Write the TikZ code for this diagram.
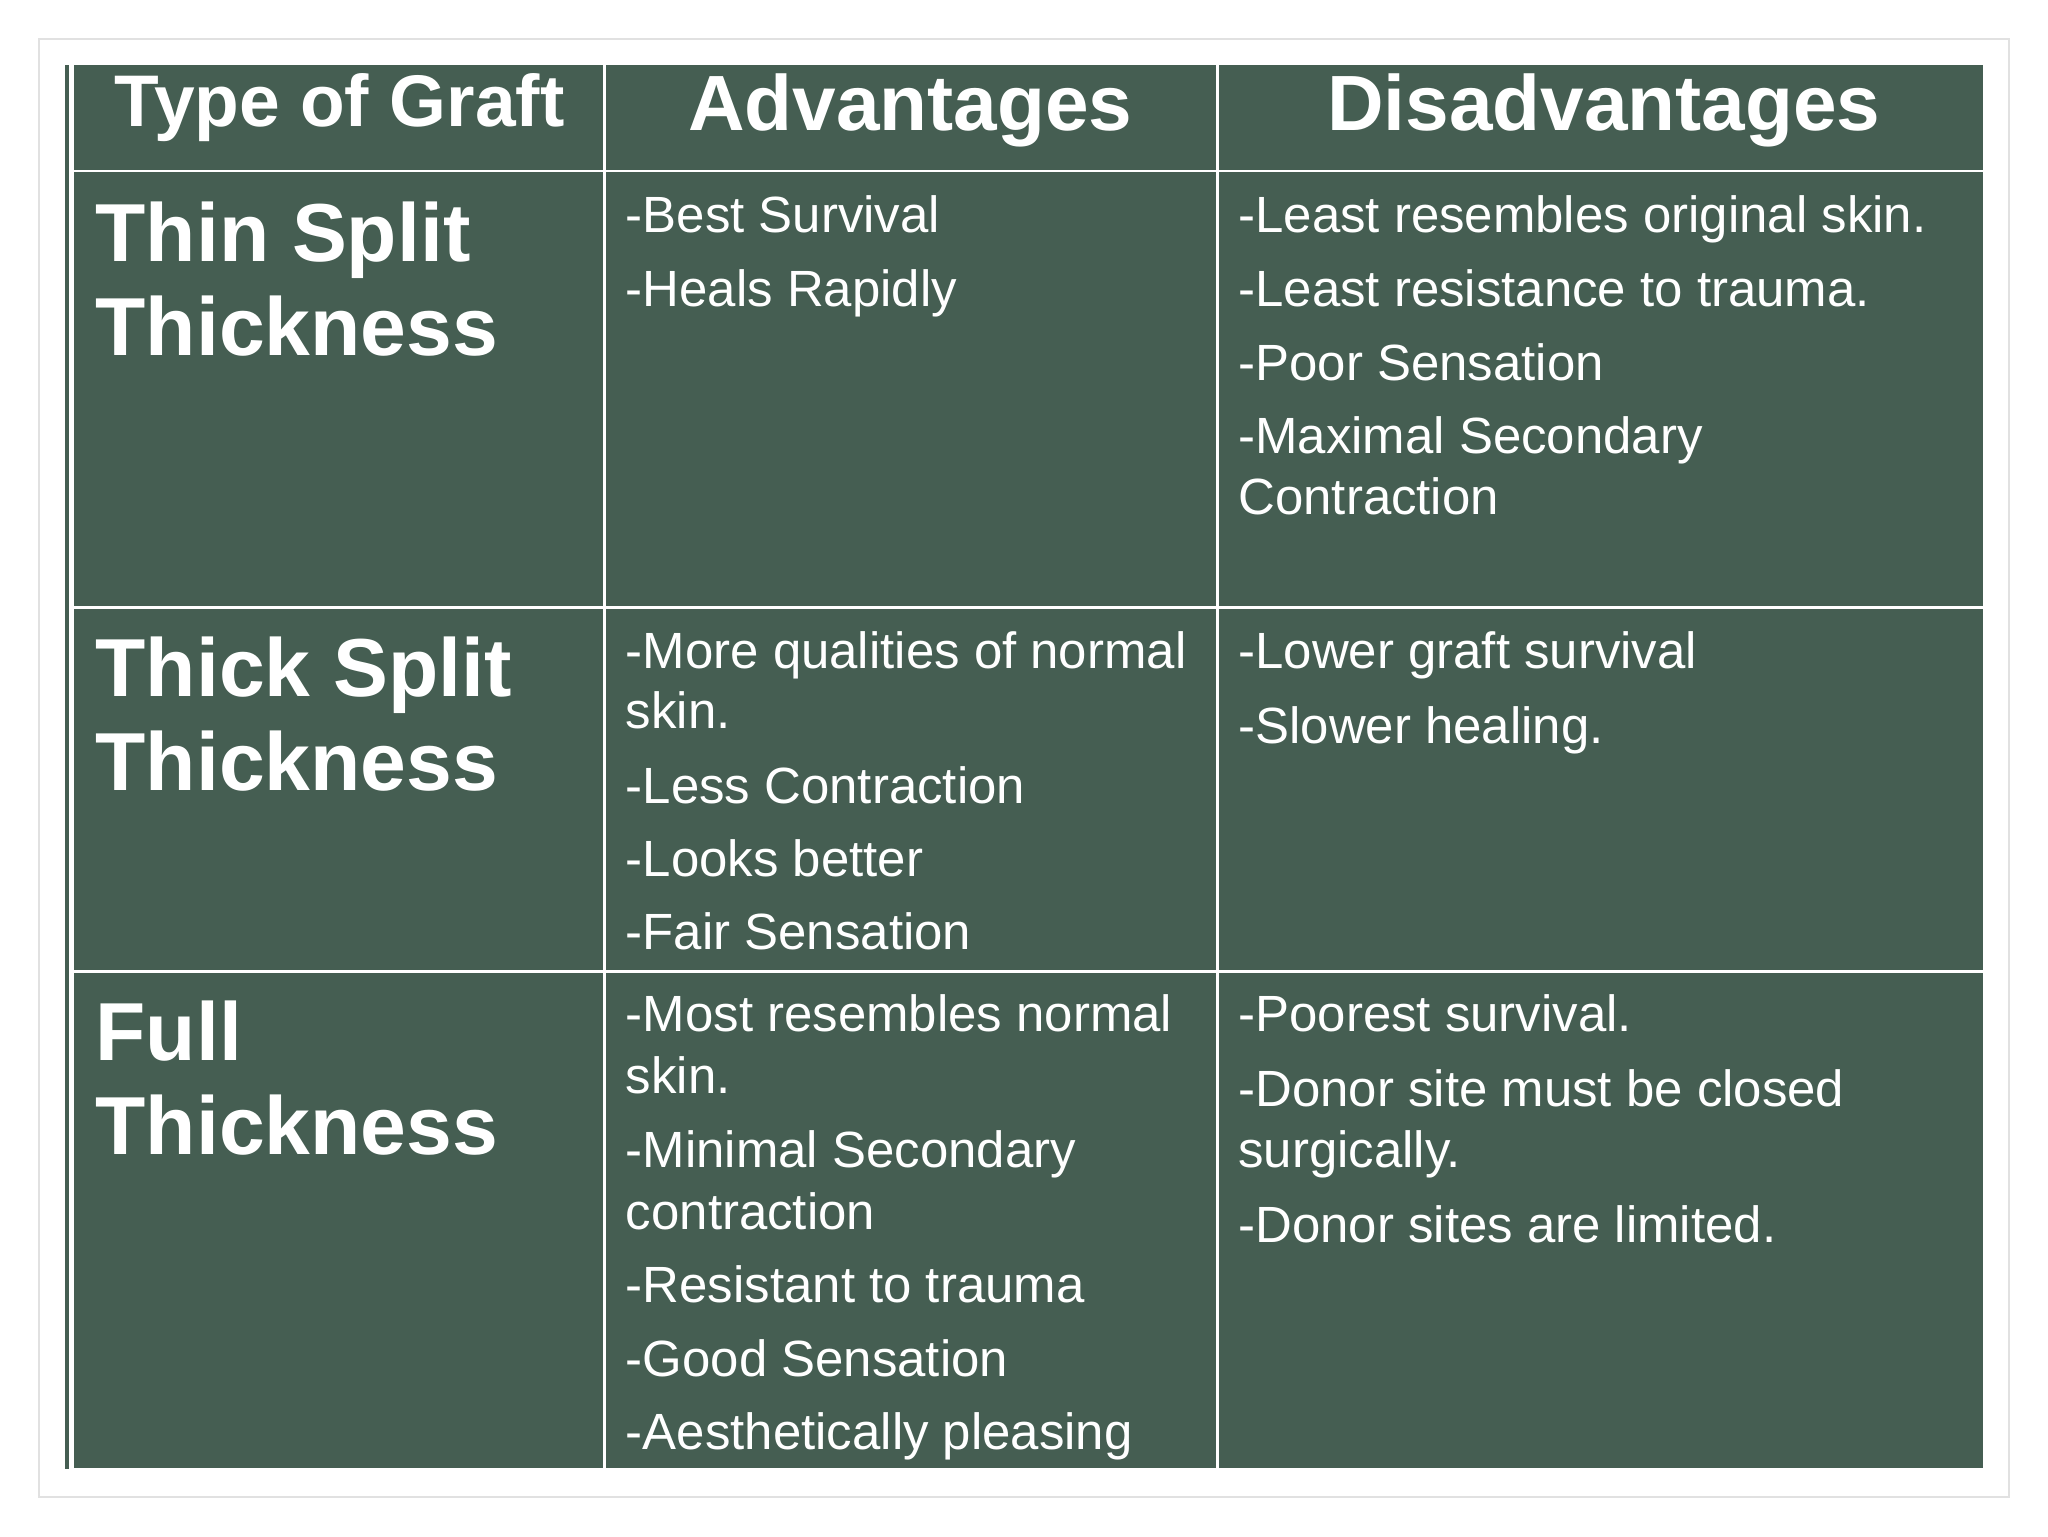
\documentclass[tikz,border=0pt]{standalone}
\usepackage{fontspec}
\setmainfont{Liberation Sans}
\definecolor{cellg}{RGB}{69,94,82}
\definecolor{frameg}{RGB}{225,225,225}
\begin{document}
\begin{tikzpicture}[x=1pt,y=-1pt,
  body/.style={anchor=base west,inner sep=0,text=white,font=\fontsize{39}{47}\selectfont},
  lab/.style={anchor=base west,inner sep=0,text=white,font=\fontsize{63}{72}\bfseries\selectfont},
  head/.style={anchor=base,inner sep=0,text=white,font=\fontsize{60}{72}\bfseries\selectfont}]
\useasboundingbox (0,0) rectangle (1568,1176);
\fill[white] (0,0) rectangle (1568,1176);
\draw[frameg,line width=1.5] (30,30) rectangle (1538,1146);
\fill[cellg] (50,50) rectangle (53,1125);
\fill[cellg] (57,50) rectangle (1518,1124);
\draw[white,line width=2] (463,50) -- (463,1124) (932,50) -- (932,1124)
  (57,131) -- (1518,131) (57,465) -- (1518,465) (57,744) -- (1518,744);
\node[head,font=\fontsize{56}{72}\bfseries\selectfont] (h1) at (260,97) {Type of Graft};
\node[head] (h2) at (697,100) {Advantages};
\node[head] (h3) at (1228,100) {Disadvantages};
% row 1
\node[lab] (l1a) at (73,200) {Thin Split};
\node[lab] (l1b) at (73,272) {Thickness};
\node[body] (a11) at (479,178) {-Best Survival};
\node[body] (a12) at (479,235) {-Heals Rapidly};
\node[body] (d11) at (948,178) {-Least resembles original skin.};
\node[body] (d12) at (948,235) {-Least resistance to trauma.};
\node[body] (d13) at (948,291) {-Poor Sensation};
\node[body] (d14) at (948,347) {-Maximal Secondary};
\node[body] (d15) at (948,394) {Contraction};
% row 2
\node[lab] (l2a) at (73,533) {Thick Split};
\node[lab] (l2b) at (73,605) {Thickness};
\node[body] (a21) at (479,512) {-More qualities of normal};
\node[body] (a22) at (479,558) {skin.};
\node[body] (a23) at (479,615) {-Less Contraction};
\node[body] (a24) at (479,671) {-Looks better};
\node[body] (a25) at (479,727) {-Fair Sensation};
\node[body] (d21) at (948,512) {-Lower graft survival};
\node[body] (d22) at (948,569) {-Slower healing.};
% row 3
\node[lab] (l3a) at (73,812) {Full};
\node[lab] (l3b) at (73,884) {Thickness};
\node[body] (a31) at (479,790) {-Most resembles normal};
\node[body] (a32) at (479,837) {skin.};
\node[body] (a33) at (479,894) {-Minimal Secondary};
\node[body] (a34) at (479,941) {contraction};
\node[body] (a35) at (479,997) {-Resistant to trauma};
\node[body] (a36) at (479,1054) {-Good Sensation};
\node[body] (a37) at (479,1110) {-Aesthetically pleasing};
\node[body] (d31) at (948,790) {-Poorest survival.};
\node[body] (d32) at (948,847) {-Donor site must be closed};
\node[body] (d33) at (948,894) {surgically.};
\node[body] (d34) at (948,951) {-Donor sites are limited.};
\end{tikzpicture}
\end{document}
